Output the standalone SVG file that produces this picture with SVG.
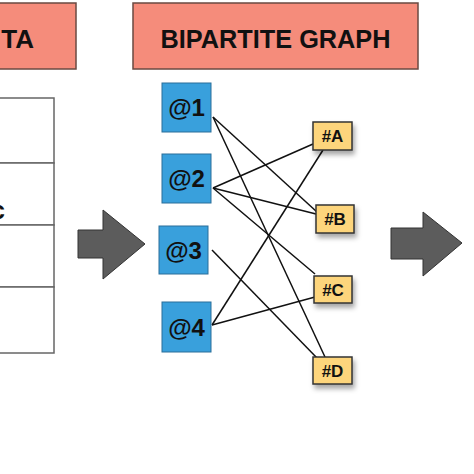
<svg xmlns="http://www.w3.org/2000/svg" width="474" height="474" viewBox="0 0 474 474">
<defs>
<style>
.hdr{fill:#f58c7b;stroke:#6a4a42;stroke-width:1.5}
.hdrt{font-family:"Liberation Sans",Arial,sans-serif;font-weight:bold;font-size:26px;fill:#111}
.cell{fill:#fff;stroke:#666;stroke-width:1.5}
.arrow{fill:#5c5c5c;stroke:#333;stroke-width:1}
.blue{fill:#39a0dc;stroke:#2a6f9a;stroke-width:1}
.bt{font-family:"Liberation Sans",Arial,sans-serif;font-weight:bold;font-size:24px;fill:#111;text-anchor:middle}
.yel{fill:#fdd57c;stroke:#333;stroke-width:1.5}
.yt{font-family:"Liberation Sans",Arial,sans-serif;font-weight:bold;font-size:17px;fill:#111;text-anchor:middle}
.edge{stroke:#111;stroke-width:1.5;fill:none}
</style>
<filter id="sh" x="-30%" y="-30%" width="170%" height="180%">
<feDropShadow dx="2" dy="4" stdDeviation="2.5" flood-color="#000" flood-opacity="0.35"/>
</filter>
</defs>
<rect width="474" height="474" fill="#fff"/>
<g id="header-data">
<rect class="hdr" x="-10" y="3" width="86" height="66"/>
<text class="hdrt" x="34" y="48" text-anchor="end">TA</text>
</g>
<g id="header-bipartite">
<rect class="hdr" x="133" y="3" width="285" height="66"/>
<text class="hdrt" x="275.5" y="48" text-anchor="middle" textLength="230" lengthAdjust="spacingAndGlyphs">BIPARTITE GRAPH</text>
</g>
<g id="table">
<rect class="cell" x="-10" y="98" width="64" height="65"/>
<rect class="cell" x="-10" y="163" width="64" height="62"/>
<rect class="cell" x="-10" y="225" width="64" height="62"/>
<rect class="cell" x="-10" y="287" width="64" height="66"/>
<text class="hdrt" x="5" y="219" text-anchor="end">c</text>
</g>
<g id="arrow1">
<polygon class="arrow" points="78,230 103,230 103,210 145,244 103,279 103,258 78,258"/>
</g>
<g id="arrow2">
<polygon class="arrow" points="391,228 423,228 423,212 462,243 423,276 423,259 391,259"/>
</g>
<g id="connectors">
<line class="edge" x1="213" y1="117" x2="317" y2="212"/>
<line class="edge" x1="213" y1="117" x2="325" y2="357"/>
<line class="edge" x1="213" y1="188" x2="313" y2="144"/>
<line class="edge" x1="213" y1="188" x2="316" y2="214"/>
<line class="edge" x1="213" y1="188" x2="315" y2="274"/>
<line class="edge" x1="212" y1="250" x2="317" y2="358"/>
<line class="edge" x1="212" y1="325" x2="323" y2="150"/>
<line class="edge" x1="212" y1="325" x2="315" y2="297"/>
</g>
<g id="n1">
<rect class="blue" x="162" y="83" width="49" height="49"/>
<text class="bt" x="186.5" y="116">@1</text>
</g>
<g id="n2">
<rect class="blue" x="162" y="154" width="49" height="49"/>
<text class="bt" x="186.5" y="187">@2</text>
</g>
<g id="n3">
<rect class="blue" x="159" y="226" width="49" height="48"/>
<text class="bt" x="183.5" y="259">@3</text>
</g>
<g id="n4">
<rect class="blue" x="162" y="302" width="49" height="50"/>
<text class="bt" x="186.5" y="336">@4</text>
</g>
<g id="nA">
<rect class="yel" filter="url(#sh)" x="313" y="122" width="39" height="28"/>
<text class="yt" x="332.5" y="142">#A</text>
</g>
<g id="nB">
<rect class="yel" filter="url(#sh)" x="316" y="205" width="38" height="28"/>
<text class="yt" x="335" y="225">#B</text>
</g>
<g id="nC">
<rect class="yel" filter="url(#sh)" x="314" y="276" width="38" height="27"/>
<text class="yt" x="333" y="295.5">#C</text>
</g>
<g id="nD">
<rect class="yel" filter="url(#sh)" x="313" y="357" width="39" height="27"/>
<text class="yt" x="332.5" y="376.5">#D</text>
</g>
</svg>
